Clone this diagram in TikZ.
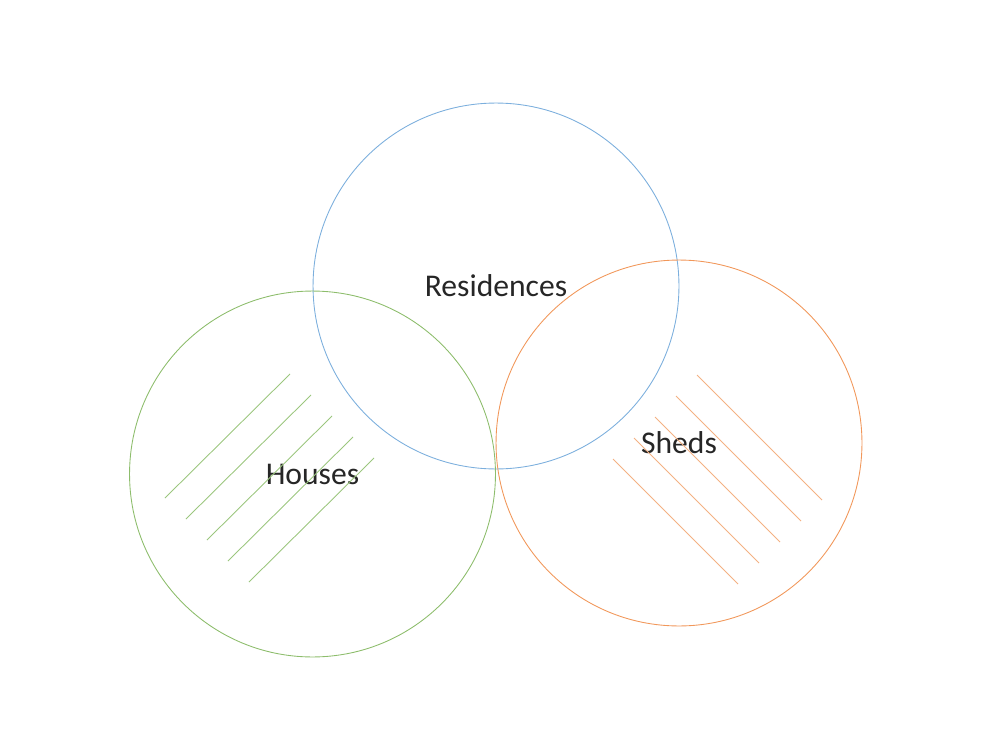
\documentclass[tikz,border=0pt]{standalone}
\usepackage{fontspec}
\setmainfont{Carlito}
\usetikzlibrary{positioning}
\definecolor{resblue}{RGB}{91,155,213}
\definecolor{shedorange}{RGB}{237,125,49}
\definecolor{housegreen}{RGB}{112,173,71}

\begin{document}
\begin{tikzpicture}[x=0.02cm,y=-0.02cm,every node/.style={draw,circle,minimum size=7.32cm,inner sep=0pt,line width=0.5pt,text=black!85,font=\fontsize{18}{21}\selectfont}]

\useasboundingbox (0,0) rectangle (1000,750);

\node[draw=resblue!80!white] (v1) at (496,286) {Residences};
\node[draw=housegreen!80!white] (v2) at (312.5,474) {Houses};
\node[draw=shedorange!80!white] (v3) at (679,443) {Sheds};

% hatching
\foreach \k in {0,...,4}
	\draw[line width=0.5pt,color=housegreen!70!white](165+21*\k,498+21*\k)--++(125,-124);
\foreach \k in {0,...,4}
	\draw[line width=0.5pt,color=shedorange!60!white](697-21*\k,375+21*\k)--++(125,125);

\end{tikzpicture}
\end{document}
